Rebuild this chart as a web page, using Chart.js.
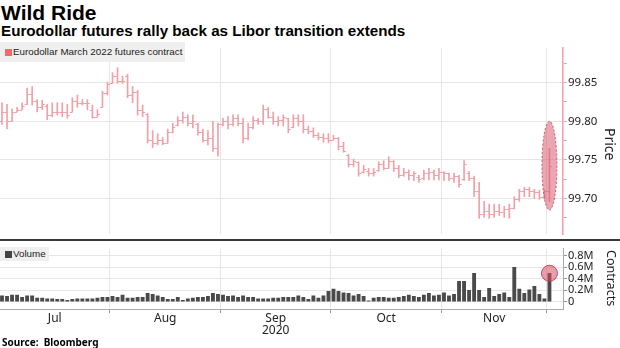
<!DOCTYPE html>
<html>
<head>
<meta charset="utf-8">
<script src="https://cdn.jsdelivr.net/npm/chart.js@4.4.0/dist/chart.umd.min.js"></script>
<style>
  body { margin: 0; width: 620px; height: 348px; overflow: hidden; background: #fff; position: relative; font-family: 'Liberation Sans', Arial, sans-serif; color: #000; }
  canvas { position: absolute; left: 0; }
  #title { position: absolute; left: 1px; top: 1px; font: bold 21px 'Liberation Sans', Arial, sans-serif; }
  #subtitle { position: absolute; left: 1px; top: 22px; font: bold 15.2px 'Liberation Sans', Arial, sans-serif; }
  #source { position: absolute; left: 2px; top: 335px; font: bold 10px 'Noto Sans', sans-serif; }
  .legend { position: absolute; left: 0; background: #efefef; font: 9.8px 'Liberation Sans', sans-serif; color: #222; white-space: nowrap; }
  .legend i { position: absolute; left: 5px; width: 7px; height: 7px; }
  #legPrice { top: 42px; width: 185px; height: 20px; line-height: 20px; padding-left: 13px; box-sizing: border-box; }
  #legPrice i { top: 7px; background: #f26a6a; }
  #legVol { top: 247px; width: 49px; height: 14px; line-height: 14px; padding-left: 13px; box-sizing: border-box; }
  #legVol i { top: 4px; background: #444; }
  .ytitle { position: absolute; writing-mode: vertical-rl; font-family: 'Noto Sans', sans-serif; color: #222; }
  #priceTitle { left: 601px; top: 128px; font-size: 14px; }
  #volTitle { left: 603px; top: 250px; font-size: 12.5px; }
  #sep { position: absolute; left: 0; top: 239px; width: 620px; height: 2px; background: #3a3a3a; }
</style>
</head>
<body>
<div id="title">Wild Ride</div>
<div id="subtitle">Eurodollar futures rally back as Libor transition extends</div>
<canvas id="priceChart" width="620" height="202" style="top:40px"></canvas>
<canvas id="volChart" width="620" height="107" style="top:241px"></canvas>
<div id="sep"></div>
<div class="legend" id="legPrice"><i></i>Eurodollar March 2022 futures contract</div>
<div class="legend" id="legVol"><i></i>Volume</div>
<div class="ytitle" id="priceTitle">Price</div>
<div class="ytitle" id="volTitle">Contracts</div>
<div id="source">Source:&nbsp; Bloomberg</div>
<script>
// trading days per month, Jul 2020 .. Dec 2020
const monthNames = ['Jul', 'Aug', ['Sep', '2020'], 'Oct', 'Nov'];
const monthDays = [22, 22, 22, 22, 21, 1];

// daily OHLC, Eurodollar March 2022 futures
const highs = [
  99.824, 99.822, 99.816, 99.818, 99.824, 99.843, 99.845, 99.828, 99.827, 99.822,
  99.824, 99.824, 99.824, 99.822, 99.8305, 99.834, 99.828, 99.828, 99.821, 99.815,
  99.839, 99.851, 99.863, 99.8695, 99.8585, 99.861, 99.845, 99.840, 99.821, 99.810,
  99.788, 99.784, 99.779, 99.790, 99.7976, 99.806, 99.812, 99.8085, 99.8085, 99.7976,
  99.790, 99.788, 99.800, 99.7976, 99.804, 99.806, 99.8085, 99.8085, 99.804, 99.7976,
  99.806, 99.804, 99.821, 99.818, 99.812, 99.806, 99.8085, 99.804, 99.8085, 99.8085,
  99.8085, 99.794, 99.7915, 99.785, 99.784, 99.784, 99.782, 99.779, 99.773, 99.757,
  99.751, 99.7476, 99.743, 99.739, 99.739, 99.7476, 99.749, 99.754, 99.749, 99.743,
  99.739, 99.737, 99.735, 99.730, 99.737, 99.739, 99.737, 99.739, 99.735, 99.733,
  99.733, 99.730, 99.749, 99.735, 99.729, 99.721, 99.6963, 99.6927, 99.6927, 99.6927,
  99.690, 99.6927, 99.7024, 99.712, 99.7146, 99.7146, 99.712, 99.711, 99.711, 99.765
];
const lows = [
  99.796, 99.790, 99.800, 99.812, 99.815, 99.822, 99.821, 99.812, 99.815, 99.802,
  99.806, 99.808, 99.806, 99.804, 99.812, 99.818, 99.821, 99.815, 99.804, 99.806,
  99.818, 99.834, 99.849, 99.849, 99.849, 99.8305, 99.824, 99.808, 99.806, 99.772,
  99.766, 99.7695, 99.7695, 99.772, 99.785, 99.794, 99.7976, 99.794, 99.7915, 99.782,
  99.773, 99.7695, 99.761, 99.755, 99.794, 99.790, 99.794, 99.794, 99.772, 99.776,
  99.790, 99.796, 99.796, 99.804, 99.796, 99.794, 99.794, 99.785, 99.7915, 99.794,
  99.785, 99.784, 99.779, 99.776, 99.773, 99.772, 99.776, 99.763, 99.760, 99.741,
  99.741, 99.729, 99.733, 99.729, 99.729, 99.735, 99.737, 99.739, 99.735, 99.727,
  99.729, 99.724, 99.723, 99.721, 99.724, 99.724, 99.724, 99.724, 99.723, 99.723,
  99.721, 99.7146, 99.723, 99.723, 99.7024, 99.6744, 99.6756, 99.6744, 99.6756, 99.678,
  99.6756, 99.6744, 99.6866, 99.6963, 99.7024, 99.7024, 99.700, 99.699, 99.699, 99.6963
];
const opens = [
  99.800, 99.812, 99.800, 99.812, 99.815, 99.822, 99.835, 99.826, 99.818, 99.820,
  99.808, 99.812, 99.812, 99.812, 99.812, 99.826, 99.824, 99.824, 99.815, 99.806,
  99.818, 99.836, 99.850, 99.858, 99.852, 99.858, 99.834, 99.838, 99.815, 99.810,
  99.776, 99.772, 99.776, 99.772, 99.786, 99.795, 99.802, 99.806, 99.798, 99.797,
  99.786, 99.776, 99.778, 99.765, 99.796, 99.800, 99.796, 99.804, 99.798, 99.778,
  99.792, 99.802, 99.800, 99.816, 99.806, 99.800, 99.802, 99.804, 99.792, 99.804,
  99.800, 99.790, 99.788, 99.782, 99.780, 99.778, 99.776, 99.779, 99.768, 99.757,
  99.745, 99.747, 99.735, 99.736, 99.733, 99.737, 99.745, 99.740, 99.748, 99.740,
  99.731, 99.735, 99.731, 99.728, 99.726, 99.733, 99.735, 99.731, 99.735, 99.733,
  99.726, 99.729, 99.725, 99.733, 99.727, 99.710, 99.680, 99.684, 99.680, 99.684,
  99.682, 99.686, 99.688, 99.700, 99.710, 99.712, 99.710, 99.708, 99.702, 99.710
];
const closes = [
  99.812, 99.800, 99.812, 99.815, 99.820, 99.835, 99.826, 99.818, 99.822, 99.808,
  99.812, 99.812, 99.812, 99.808, 99.826, 99.824, 99.824, 99.824, 99.806, 99.810,
  99.836, 99.848, 99.858, 99.852, 99.852, 99.834, 99.838, 99.815, 99.812, 99.776,
  99.772, 99.776, 99.772, 99.786, 99.792, 99.802, 99.806, 99.798, 99.800, 99.786,
  99.776, 99.778, 99.765, 99.796, 99.800, 99.796, 99.804, 99.798, 99.778, 99.792,
  99.802, 99.800, 99.816, 99.806, 99.800, 99.802, 99.806, 99.790, 99.804, 99.800,
  99.790, 99.788, 99.782, 99.780, 99.778, 99.776, 99.779, 99.768, 99.762, 99.745,
  99.748, 99.733, 99.738, 99.733, 99.735, 99.745, 99.740, 99.748, 99.740, 99.731,
  99.735, 99.731, 99.733, 99.725, 99.733, 99.735, 99.731, 99.735, 99.733, 99.726,
  99.729, 99.719, 99.745, 99.727, 99.710, 99.680, 99.684, 99.680, 99.684, 99.682,
  99.686, 99.688, 99.700, 99.710, 99.712, 99.710, 99.708, 99.702, 99.710, 99.742
];
// daily volume, contracts
const volumes = [
  104000, 94000, 115000, 115000, 78000, 104000, 104000, 63000, 63000, 52000,
  52000, 42000, 42000, 26000, 42000, 52000, 52000, 52000, 52000, 63000,
  78000, 78000, 94000, 78000, 115000, 63000, 63000, 78000, 78000, 146000,
  130000, 104000, 78000, 42000, 42000, 78000, 26000, 52000, 63000, 78000,
  78000, 94000, 146000, 130000, 115000, 94000, 104000, 78000, 104000, 78000,
  78000, 52000, 52000, 52000, 63000, 63000, 78000, 78000, 78000, 104000,
  78000, 42000, 104000, 63000, 104000, 182000, 219000, 182000, 156000, 146000,
  104000, 130000, 94000, 16000, 63000, 78000, 78000, 63000, 63000, 78000,
  94000, 115000, 94000, 78000, 115000, 146000, 104000, 115000, 156000, 104000,
  130000, 354000, 354000, 198000, 494000, 198000, 78000, 234000, 94000, 130000,
  156000, 78000, 598000, 219000, 146000, 208000, 270000, 130000, 52000, 494000
];
const priceTicks = [99.675, 99.70, 99.725, 99.75, 99.775, 99.80, 99.825, 99.85, 99.875];
const volTicks = [0, 200000, 400000, 600000, 800000];
const highlightRange = [99.685, 99.80];

const barPink = '#f2a0a8';
const axisPink = '#f4a0a8';
const gridGrey = '#e6e6e6';
const clear = 'rgba(0,0,0,0)';
const tickFont = { family: "'Noto Sans', sans-serif", size: 11.5 };

// month boundaries and mid points in bar-index units
const bounds = [];
const mids = [];
let start = -0.5;
monthDays.forEach((n, k) => {
  if (k < monthNames.length) mids.push(start + n / 2);
  start += n;
  if (k < monthDays.length - 1) bounds.push(start);
});
const xMin = -0.4, xMax = 111.7;
const isBound = v => bounds.some(b => Math.abs(b - v) < 1e-6);
const isMajor = v => Math.abs(v * 20 - Math.round(v * 20)) < 1e-6;

const ohlcTicks = {
  id: 'ohlcTicks',
  afterDatasetsDraw(chart) {
    const { ctx, scales: { x, y } } = chart;
    ctx.save();
    ctx.strokeStyle = barPink;
    ctx.lineWidth = 1;
    ctx.beginPath();
    opens.forEach((o, i) => {
      const px = x.getPixelForValue(i);
      const yo = Math.round(y.getPixelForValue(o)) + 0.5;
      const yc = Math.round(y.getPixelForValue(closes[i])) + 0.5;
      ctx.moveTo(px - 2.5, yo); ctx.lineTo(px, yo);
      ctx.moveTo(px, yc); ctx.lineTo(px + 2.5, yc);
    });
    ctx.stroke();
    // highlight around the latest bar
    const last = highs.length - 1;
    const cx = x.getPixelForValue(last);
    const yTop = y.getPixelForValue(highlightRange[1]);
    const yBot = y.getPixelForValue(highlightRange[0]);
    ctx.beginPath();
    ctx.ellipse(cx, (yTop + yBot) / 2, 7.5, (yBot - yTop) / 2, 0, 0, Math.PI * 2);
    ctx.fillStyle = 'rgba(214, 80, 100, 0.5)';
    ctx.fill();
    ctx.setLineDash([2, 2]);
    ctx.strokeStyle = 'rgba(190, 60, 80, 0.8)';
    ctx.stroke();
    ctx.restore();
  }
};

const volCircle = {
  id: 'volCircle',
  afterDatasetsDraw(chart) {
    const { ctx, scales: { x, y } } = chart;
    const last = volumes.length - 1;
    ctx.save();
    ctx.beginPath();
    ctx.arc(x.getPixelForValue(last), y.getPixelForValue(volumes[last]), 8, 0, Math.PI * 2);
    ctx.fillStyle = 'rgba(214, 80, 100, 0.55)';
    ctx.fill();
    ctx.strokeStyle = 'rgba(190, 60, 80, 0.9)';
    ctx.lineWidth = 1;
    ctx.stroke();
    ctx.restore();
  }
};

new Chart(document.getElementById('priceChart'), {
  type: 'bar',
  data: {
    datasets: [{
      data: highs.map((h, i) => ({ x: i, y: [lows[i], h] })),
      backgroundColor: barPink,
      barThickness: 1,
    }],
  },
  options: {
    responsive: false, animation: false,
    layout: { padding: { top: 2, bottom: 2, left: 0, right: 0 } },
    plugins: { legend: { display: false }, tooltip: { enabled: false } },
    scales: {
      x: {
        type: 'linear', min: xMin, max: xMax, offset: false,
        afterBuildTicks: s => { s.ticks = bounds.map(v => ({ value: v })); },
        afterFit: s => { s.height = 0; },
        ticks: { display: false },
        grid: { color: gridGrey, drawTicks: false, offset: false },
        border: { display: false },
      },
      y: {
        position: 'right', min: 99.654, max: 99.895,
        afterBuildTicks: s => { s.ticks = priceTicks.map(v => ({ value: v })); },
        afterFit: s => { s.width = 57; },
        ticks: {
          color: '#222', font: tickFont, padding: 1, autoSkip: false,
          callback: v => (isMajor(v) ? v.toFixed(2) : ''),
        },
        grid: {
          color: c => (c.tick && isMajor(c.tick.value) ? gridGrey : clear),
          tickColor: axisPink, tickLength: 4,
        },
        border: { display: true, color: axisPink, width: 1.5 },
      },
    },
  },
  plugins: [ohlcTicks],
});

new Chart(document.getElementById('volChart'), {
  type: 'bar',
  data: {
    datasets: [{
      data: volumes.map((v, i) => ({ x: i, y: v })),
      backgroundColor: '#4a4a4a',
      barThickness: 3.2,
    }],
  },
  options: {
    responsive: false, animation: false,
    layout: { padding: { top: 1, bottom: 0, left: 0, right: 0 } },
    plugins: { legend: { display: false }, tooltip: { enabled: false } },
    scales: {
      x: {
        type: 'linear', min: xMin, max: xMax, offset: false,
        afterBuildTicks: s => { s.ticks = bounds.concat(mids).sort((a, b) => a - b).map(v => ({ value: v })); },
        afterFit: s => { s.height = 39; },
        ticks: {
          color: '#222', font: { family: "'Noto Sans', sans-serif", size: 12, lineHeight: 1.0 },
          padding: 0, maxRotation: 0, autoSkip: false,
          callback: v => { const k = mids.findIndex(m => Math.abs(m - v) < 1e-6); return k >= 0 ? monthNames[k] : ''; },
        },
        grid: {
          offset: false,
          color: c => (c.tick && isBound(c.tick.value) ? gridGrey : clear),
          tickColor: c => (c.tick && isBound(c.tick.value) ? '#999' : clear),
          tickLength: 4,
        },
        border: { display: true, color: '#aaa' },
      },
      y: {
        position: 'right', min: -125000, max: 922000,
        afterBuildTicks: s => { s.ticks = volTicks.map(v => ({ value: v })); },
        afterFit: s => { s.width = 57; },
        ticks: {
          color: '#222', font: { family: "'Noto Sans', sans-serif", size: 11 }, padding: 1, autoSkip: false,
          callback: v => (v === 0 ? '0' : (v / 1e6).toFixed(1) + 'M'),
        },
        grid: { color: gridGrey, tickColor: '#999', tickLength: 4 },
        border: { display: true, color: '#aaa' },
      },
    },
  },
  plugins: [volCircle],
});
</script>
</body>
</html>
